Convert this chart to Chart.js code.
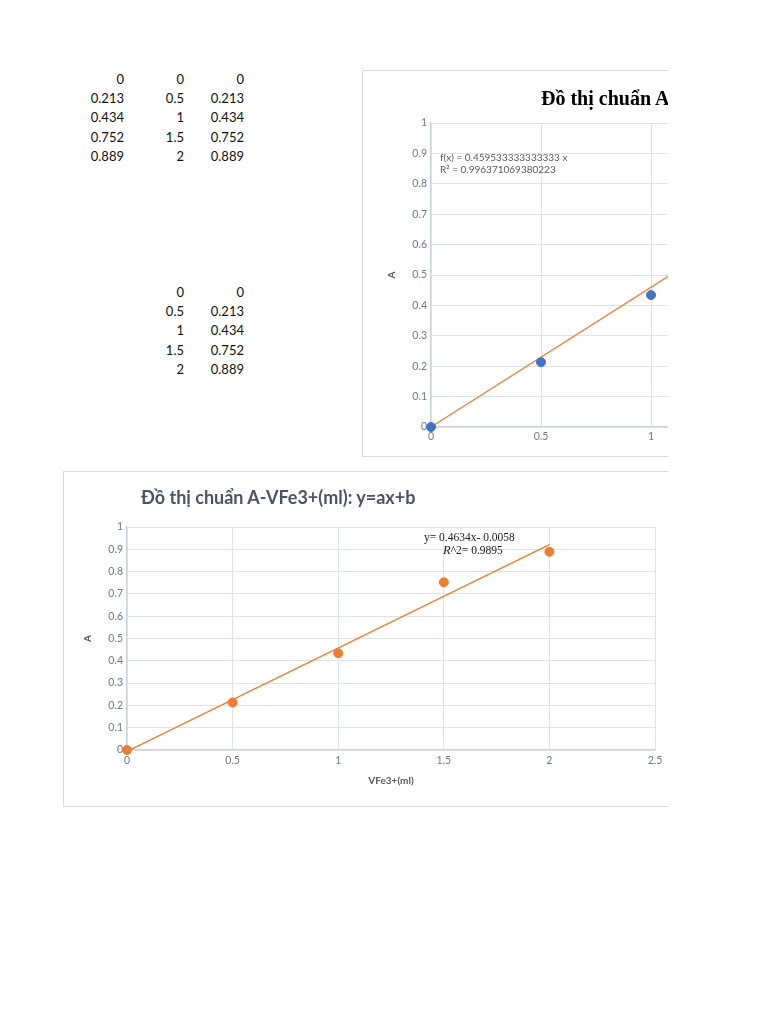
<!DOCTYPE html>
<html>
<head>
<meta charset="utf-8">
<script src="https://cdn.jsdelivr.net/npm/chart.js@4.4.1/dist/chart.umd.min.js"></script>
<style>
  html, body { margin: 0; padding: 0; background: #fff; }
  #page { position: relative; width: 668px; height: 1024px; overflow: hidden; background: #fff; }
  .abs { position: absolute; white-space: nowrap; }
  .cell { position: absolute; font-family: Lato, "Noto Sans", sans-serif; font-size: 13px; color: #111;
          text-align: right; width: 60px; height: 19px; line-height: 19px; }
  .box { position: absolute; border: 1px solid #d9d9d9; box-sizing: border-box; background: #fff; }
  canvas { position: absolute; }
</style>
</head>
<body>
<div id="page">
  <div class="box" style="left:362px; top:70px; width:700px; height:387px;"></div>
  <div class="box" style="left:63px; top:471px; width:660px; height:336px;"></div>

  <canvas id="c1" width="640" height="385" style="left:362px; top:70px;"></canvas>
  <canvas id="c2" width="620" height="335" style="left:64px; top:471px;"></canvas>

  <div class="abs" style="left:541px; top:86px; font-family:'Liberation Serif', serif; font-weight:bold; font-size:20px; line-height:24px; color:#000;">Đồ thị chuẩn A-VFe3+(ml)</div>
  <div class="abs" style="left:440px; top:151px; font-family:Lato, sans-serif; font-size:10px; line-height:12px; color:#595959;">f(x) = 0.459533333333333 x<br>R² = 0.996371069380223</div>

  <div class="abs" style="left:141px; top:484px; font-family:Lato, sans-serif; font-weight:bold; font-size:18px; line-height:26px; color:#4a5466;">Đồ thị chuẩn A-VFe3+(ml): y=ax+b</div>
  <div class="abs" style="left:424px; top:531px; font-family:'Liberation Serif', serif; font-size:11.5px; line-height:13px; color:#222;">y= 0.4634x- 0.0058</div>
  <div class="abs" style="left:443px; top:544px; font-family:'Liberation Serif', serif; font-size:11.5px; line-height:13px; color:#222;"><i style="font-size:12.5px;">R</i>^2= 0.9895</div>

  <div id="tables"></div>
</div>
<script>
// ---- data ----
const volumes = [0, 0.5, 1, 1.5, 2];               // VFe3+ (ml)
const absorbance = [0, 0.213, 0.434, 0.752, 0.889]; // A
const xTicksMax = 2.5;
const trendX = [0, 2];
const trendTopY = [0, 0.919];
const trendBottomY = [-0.0058, 0.921];

// ---- spreadsheet cells ----
const table1Cols = [absorbance, volumes, absorbance];
const table2Cols = [volumes, absorbance];
const tables = document.getElementById('tables');
function fmt(v) { return String(v); }
function drawTable(cols, rightEdges, firstRowCenter) {
  cols.forEach((col, ci) => {
    col.forEach((v, ri) => {
      const d = document.createElement('div');
      d.className = 'cell';
      d.textContent = fmt(v);
      d.style.left = (rightEdges[ci] - 60) + 'px';
      d.style.top = (firstRowCenter + ri * 19.4 - 9.5) + 'px';
      tables.appendChild(d);
    });
  });
}
drawTable(table1Cols, [124, 184, 244], 79);
drawTable(table2Cols, [184, 244], 292);

// ---- charts ----
const tickColor = '#6f7788';
const gridColor = '#dfe3eb';
const borderColor = '#ccd2dc';
const tickFont = { family: 'Lato, sans-serif', size: 10.5 };
const tickFmt = v => String(Math.round(v * 10) / 10);

function pts(xs, ys) { return xs.map((x, i) => ({ x: x, y: ys[i] })); }

function makeChart(id, color, trendY, o) {
  return new Chart(document.getElementById(id), {
    type: 'scatter',
    data: {
      datasets: [
        {
          label: 'A',
          data: pts(volumes, absorbance),
          backgroundColor: color,
          borderColor: color,
          pointRadius: 4.5,
          pointStyle: 'circle',
          clip: false,
          order: 1
        },
        {
          label: 'trend',
          data: pts(trendX, trendY),
          showLine: true,
          borderColor: '#ED7D31',
          borderWidth: 1.3,
          pointRadius: 0,
          clip: 2,
          order: 2
        }
      ]
    },
    options: {
      responsive: false,
      animation: false,
      devicePixelRatio: 1,
      layout: { padding: o.padding },
      plugins: { legend: { display: false }, tooltip: { enabled: false }, title: { display: false } },
      scales: {
        x: {
          type: 'linear', min: 0, max: xTicksMax,
          ticks: { stepSize: 0.5, color: tickColor, font: tickFont, padding: o.xTickPad, maxRotation: 0, callback: tickFmt },
          grid: { color: gridColor, drawTicks: false },
          border: { color: borderColor, width: 1.2 },
          title: o.xTitle,
          afterFit: s => { s.height = o.xHeight; }
        },
        y: {
          type: 'linear', min: 0, max: 1,
          ticks: { stepSize: 0.1, color: tickColor, font: tickFont, padding: 4, callback: tickFmt },
          grid: { color: gridColor, drawTicks: false },
          border: { color: borderColor, width: 1.2 },
          title: { display: true, text: 'A', color: '#595959', font: { family: 'Lato, sans-serif', size: 10, weight: 'bold' },
                   padding: { top: o.yTitlePad, bottom: 0 } },
          afterFit: s => { s.width = o.yWidth; }
        }
      }
    }
  });
}

makeChart('c1', '#4472C4', trendTopY, {
  padding: { left: 0, top: 53, right: 21, bottom: 8 },
  xHeight: 20, yWidth: 69, xTickPad: 3, yTitlePad: 24,
  xTitle: { display: false }
});

makeChart('c2', '#ED7D31', trendBottomY, {
  padding: { left: 0, top: 56, right: 29, bottom: 11 },
  xHeight: 45, yWidth: 63, xTickPad: 4, yTitlePad: 18,
  xTitle: { display: true, text: 'VFe3+(ml)', color: '#595959', font: { family: 'Lato, sans-serif', size: 10, weight: 'bold' },
            padding: { top: 0, bottom: 8 } }
});
</script>
</body>
</html>
